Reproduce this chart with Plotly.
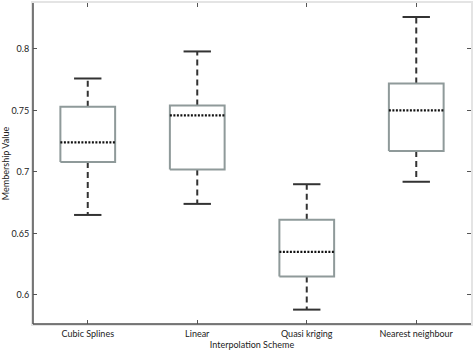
import plotly.graph_objects as go

categories = ["Cubic Splines", "Linear", "Quasi kriging", "Nearest neighbour"]
lower_whisker = [0.665, 0.674, 0.588, 0.692]
q1 = [0.708, 0.702, 0.615, 0.717]
median = [0.724, 0.746, 0.635, 0.750]
q3 = [0.753, 0.754, 0.661, 0.772]
upper_whisker = [0.776, 0.798, 0.690, 0.826]
y_ticks = [0.6, 0.65, 0.7, 0.75, 0.8]
y_tick_labels = ["0.6", "0.65", "0.7", "0.75", "0.8"]

BOX_HALF = 0.25
CAP_HALF = 0.125
FONT = "Lato"

idx = list(range(len(categories)))

# box outlines
bx, by = [], []
for i in idx:
    bx += [i - BOX_HALF, i + BOX_HALF, i + BOX_HALF, i - BOX_HALF, i - BOX_HALF, None]
    by += [q1[i], q1[i], q3[i], q3[i], q1[i], None]

# whiskers (dashed)
wx, wy = [], []
for i in idx:
    wx += [i, i, None, i, i, None]
    wy += [q3[i], upper_whisker[i], None, q1[i], lower_whisker[i], None]

# caps
cx, cy = [], []
for i in idx:
    cx += [i - CAP_HALF, i + CAP_HALF, None, i - CAP_HALF, i + CAP_HALF, None]
    cy += [upper_whisker[i], upper_whisker[i], None, lower_whisker[i], lower_whisker[i], None]

# medians (dotted)
mx, my = [], []
for i in idx:
    mx += [i - BOX_HALF, i + BOX_HALF, None]
    my += [median[i], median[i], None]

fig = go.Figure()
fig.add_trace(go.Scatter(x=wx, y=wy, mode="lines",
                         line=dict(color="#333333", width=2, dash="6px,4px"),
                         hoverinfo="skip", showlegend=False))
fig.add_trace(go.Scatter(x=cx, y=cy, mode="lines",
                         line=dict(color="#333333", width=2),
                         hoverinfo="skip", showlegend=False))
fig.add_trace(go.Scatter(x=bx, y=by, mode="lines",
                         line=dict(color="#8f9a9a", width=2),
                         hoverinfo="skip", showlegend=False))
fig.add_trace(go.Scatter(x=mx, y=my, mode="lines",
                         line=dict(color="#111111", width=2.2, dash="2px,1.5px"),
                         hoverinfo="skip", showlegend=False))

fig.update_layout(
    width=474, height=351,
    margin=dict(l=32, r=1, t=1, b=27),
    paper_bgcolor="white", plot_bgcolor="white",
    font=dict(family=FONT, size=9, color="#222222"),
    showlegend=False,
)
fig.update_xaxes(
    range=[-0.5, 3.5], tickvals=idx, ticktext=categories,
    showgrid=False, zeroline=False,
    showline=True, linecolor="#e4e4e4", linewidth=2, mirror="ticks",
    ticks="inside", ticklen=4, tickcolor="#555555", tickwidth=1,
    title=dict(text="Interpolation Scheme", standoff=2, font=dict(size=9)),
    tickfont=dict(size=9),
)
fig.update_yaxes(
    range=[0.5763, 0.8374], tickvals=y_ticks, ticktext=y_tick_labels,
    showgrid=False, zeroline=False,
    showline=True, linecolor="#e4e4e4", linewidth=2, mirror="ticks",
    ticks="inside", ticklen=4, tickcolor="#555555", tickwidth=1,
    title=dict(text="Membership Value", standoff=4, font=dict(size=9)),
    tickfont=dict(size=9),
)
# dark left and bottom axis lines
fig.add_shape(type="line", xref="paper", yref="paper", x0=0, x1=0, y0=0, y1=1,
              line=dict(color="#505050", width=1.5))
fig.add_shape(type="line", xref="paper", yref="paper", x0=0, x1=1, y0=0, y1=0,
              line=dict(color="#505050", width=1.5))

fig.write_html("out.html")
